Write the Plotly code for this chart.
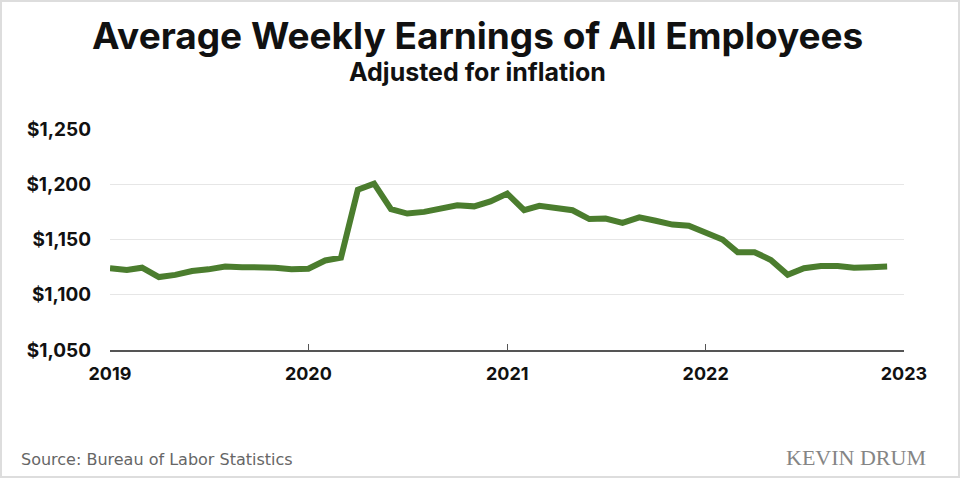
import plotly.graph_objects as go
import pandas as pd

# Data: monthly average weekly earnings (inflation-adjusted), Jan 2019 - Dec 2022
months = pd.date_range("2019-01-01", "2022-12-01", freq="MS")
earnings = [
    1124, 1122.5, 1124.5, 1116, 1118, 1121.5, 1123, 1125.5, 1125, 1125, 1124.5, 1123,
    1123.5, 1131, 1133.5, 1195, 1200.5, 1177.5, 1173.5, 1175, 1177.5, 1181, 1180, 1184.5,
    1191.5, 1176.5, 1180.5, 1178.5, 1176.5, 1168.5, 1169, 1165, 1170, 1167, 1163.5, 1162.5,
    1155.5, 1150, 1138.5, 1138.5, 1131.5, 1118, 1124, 1126, 1126, 1124.5, 1125, 1125.5,
]
year_ticks = ["2019-01-01", "2020-01-01", "2021-01-01", "2022-01-01", "2023-01-01"]
year_labels = ["2019", "2020", "2021", "2022", "2023"]
y_ticks = [1050, 1100, 1150, 1200, 1250]
y_labels = ["$1,050", "$1,100", "$1,150", "$1,200", "$1,250"]

W, H = 960, 478
ML, MR, MT, MB = 110, 56, 129, 128
PW, PH = W - ML - MR, H - MT - MB

def px(xp):
    return (xp - ML) / PW

def py(yp):
    return (H - MB - yp) / PH

fig = go.Figure()
fig.add_trace(go.Scatter(
    x=months, y=earnings, mode="lines",
    line=dict(color="#4b7d2e", width=6),
    hoverinfo="skip", showlegend=False,
))

bold = "Inter, Lato, sans-serif"
fig.update_layout(
    width=W, height=H,
    margin=dict(l=ML, r=MR, t=MT, b=MB),
    paper_bgcolor="white", plot_bgcolor="white",
    xaxis=dict(
        range=["2019-01-01", "2023-01-01"],
        tickvals=year_ticks, ticktext=year_labels,
        showgrid=False, zeroline=False,
        showline=True, linecolor="#555555", linewidth=1.5,
        ticks="inside", ticklen=6, tickcolor="#555555", tickwidth=1,
        ticklabelstandoff=7,
        tickfont=dict(family=bold, size=18, color="#111111", weight="bold"),
    ),
    yaxis=dict(
        range=[1050, 1250],
        tickvals=y_ticks, ticktext=y_labels,
        showgrid=True, gridcolor="#e6e6e6", gridwidth=1,
        zeroline=False, showline=False, ticks="",
        ticklabelstandoff=18,
        tickfont=dict(family=bold, size=19, color="#111111", weight="bold"),
    ),
    shapes=[dict(
        type="rect", xref="paper", yref="paper",
        x0=px(1), x1=px(W - 1), y0=py(H - 1), y1=py(1),
        line=dict(color="#dddddd", width=2), fillcolor="rgba(0,0,0,0)", layer="below",
    )],
    annotations=[
        dict(text="<b>Average Weekly Earnings of All Employees</b>", xref="paper", yref="paper",
             x=px(477), y=py(36), xanchor="center", yanchor="middle", showarrow=False,
             font=dict(family=bold, size=37, color="#111111")),
        dict(text="<b>Adjusted for inflation</b>", xref="paper", yref="paper",
             x=px(477), y=py(72), xanchor="center", yanchor="middle", showarrow=False,
             font=dict(family=bold, size=25, color="#111111")),
        dict(text="Source: Bureau of Labor Statistics", xref="paper", yref="paper",
             x=px(19), y=py(459), xanchor="left", yanchor="middle", showarrow=False,
             font=dict(family="DejaVu Sans, Verdana, sans-serif", size=16, color="#666666")),
        dict(text="KEVIN DRUM", xref="paper", yref="paper",
             x=px(928), y=py(457), xanchor="right", yanchor="middle", showarrow=False,
             font=dict(family="Liberation Serif, DejaVu Serif, serif", size=22, color="#858585")),
    ],
)

fig.write_html("out.html")
